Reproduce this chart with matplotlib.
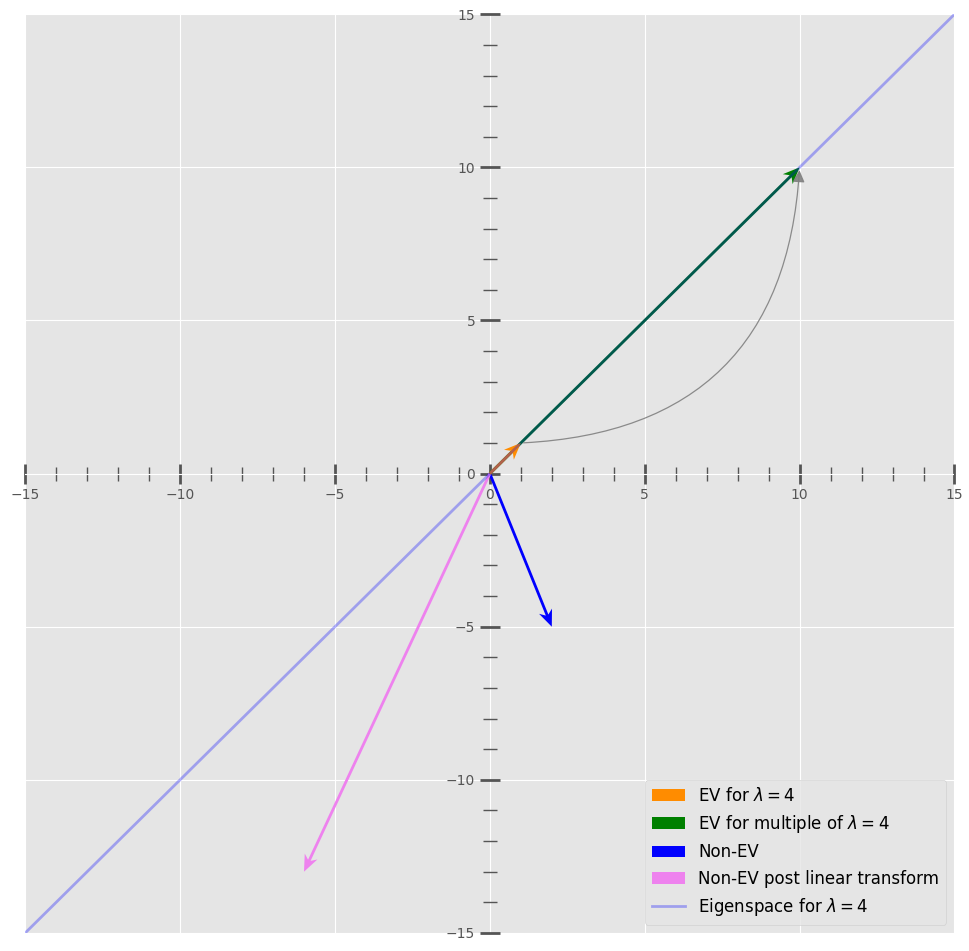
import matplotlib
matplotlib.use("Agg")
import matplotlib.pyplot as plt
import numpy as np
from matplotlib.ticker import MultipleLocator

plt.style.use("ggplot")

ev = [1, 1]
ev_mult = [10, 10]
non_ev = [2, -5]
non_ev_t = [-6, -13]
eig_x = [-15, 15]
eig_y = [-15, 15]

fig, ax = plt.subplots(figsize=(9.7, 9.51), dpi=100)
fig.subplots_adjust(left=0.026, right=0.984, bottom=0.019, top=0.985)

kw = dict(angles="xy", scale_units="xy", scale=1, width=0.003, headwidth=5, headlength=6)
ax.quiver(0, 0, ev[0], ev[1], color="darkorange", label=r"EV for $\lambda = 4$", zorder=2.5, **kw)
ax.quiver(0, 0, ev_mult[0], ev_mult[1], color="green", label=r"EV for multiple of $\lambda = 4$", zorder=2.2, **kw)
ax.quiver(0, 0, non_ev[0], non_ev[1], color="blue", label="Non-EV", **kw)
ax.quiver(0, 0, non_ev_t[0], non_ev_t[1], color="violet", label="Non-EV post linear transform", **kw)
ax.plot(eig_x, eig_y, color="blue", alpha=0.3, lw=2, label=r"Eigenspace for $\lambda = 4$", zorder=3)
ax.annotate("", xy=(ev_mult[0], ev_mult[1]), xytext=(ev[0], ev[1]),
            arrowprops=dict(arrowstyle="-|>", color="gray", lw=0.9, alpha=0.9, mutation_scale=18,
                            connectionstyle="arc3,rad=0.45"))

ax.set_xlim(-15, 15)
ax.set_ylim(-15, 15)
for s in ["left", "bottom"]:
    ax.spines[s].set_position("zero")
    ax.spines[s].set_visible(False)
ax.spines["right"].set_visible(False)
ax.spines["top"].set_visible(False)
ax.xaxis.set_major_locator(MultipleLocator(5))
ax.yaxis.set_major_locator(MultipleLocator(5))
ax.xaxis.set_minor_locator(MultipleLocator(1))
ax.yaxis.set_minor_locator(MultipleLocator(1))
ax.tick_params(which="major", direction="inout", length=14, width=2, color="#555555")
ax.tick_params(which="minor", direction="inout", length=10, width=1, color="#555555")
ax.grid(which="minor", visible=False)
ax.legend(loc="lower right", fontsize=12, facecolor="#e5e5e5")
fig.savefig("out.png")
